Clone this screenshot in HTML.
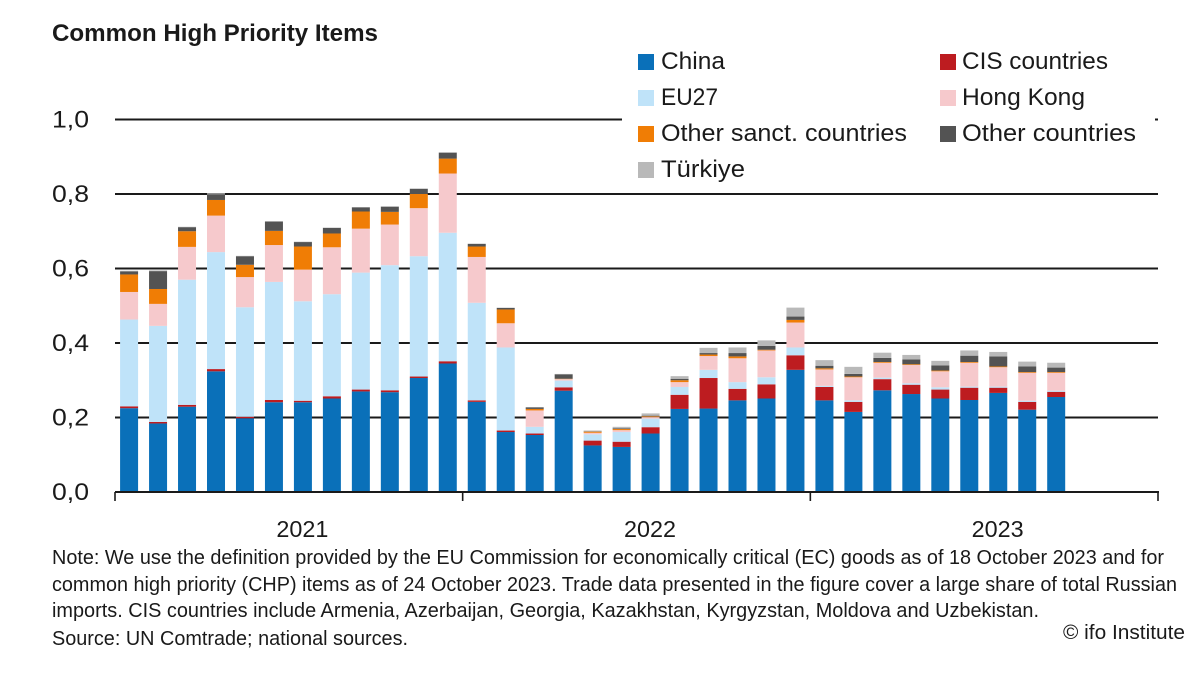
<!DOCTYPE html>
<html lang="en">
<head>
<meta charset="utf-8">
<title>Common High Priority Items</title>
<style>
html,body{margin:0;padding:0;background:#fff;}
svg{display:block;}
text{font-family:"Liberation Sans",sans-serif;fill:#1a1a1a;}
</style>
</head>
<body>
<svg id="chart" xmlns="http://www.w3.org/2000/svg" width="1200" height="674" viewBox="0 0 1200 674">
  <rect x="0" y="0" width="1200" height="674" fill="#fff"/>
  <text x="52" y="41" font-size="24" font-weight="bold" textLength="326" lengthAdjust="spacingAndGlyphs">Common High Priority Items</text>
  <g id="grid"></g>
  <g id="bars"></g>
  <g id="axes"></g>
  <g id="legend">
    <rect x="622" y="44" width="533" height="142" fill="#fff"/>
    <g><rect x="638" y="54" width="16" height="16" fill="#0a70b9"/><text x="661" y="69" font-size="24" textLength="64" lengthAdjust="spacingAndGlyphs">China</text></g>
    <g><rect x="638" y="90" width="16" height="16" fill="#bfe3f9"/><text x="661" y="105" font-size="24" textLength="57" lengthAdjust="spacingAndGlyphs">EU27</text></g>
    <g><rect x="638" y="126" width="16" height="16" fill="#f07d05"/><text x="661" y="141" font-size="24" textLength="246" lengthAdjust="spacingAndGlyphs">Other sanct. countries</text></g>
    <g><rect x="638" y="162" width="16" height="16" fill="#b9b9b9"/><text x="661" y="177" font-size="24" textLength="84" lengthAdjust="spacingAndGlyphs">Türkiye</text></g>
    <g><rect x="940" y="54" width="16" height="16" fill="#bd1c20"/><text x="962" y="69" font-size="24" textLength="146" lengthAdjust="spacingAndGlyphs">CIS countries</text></g>
    <g><rect x="940" y="90" width="16" height="16" fill="#f6c9cc"/><text x="962" y="105" font-size="24" textLength="123" lengthAdjust="spacingAndGlyphs">Hong Kong</text></g>
    <g><rect x="940" y="126" width="16" height="16" fill="#535353"/><text x="962" y="141" font-size="24" textLength="174" lengthAdjust="spacingAndGlyphs">Other countries</text></g>
  </g>
  <g>
    <text x="52" y="564" font-size="20" textLength="1112" lengthAdjust="spacingAndGlyphs">Note: We use the definition provided by the EU Commission for economically critical (EC) goods as of 18 October 2023 and for</text>
    <text x="52" y="591" font-size="20" textLength="1125" lengthAdjust="spacingAndGlyphs">common high priority (CHP) items as of 24 October 2023. Trade data presented in the figure cover a large share of total Russian</text>
    <text x="52" y="617" font-size="20" textLength="987" lengthAdjust="spacingAndGlyphs">imports. CIS countries include Armenia, Azerbaijan, Georgia, Kazakhstan, Kyrgyzstan, Moldova and Uzbekistan.</text>
    <text x="52" y="645" font-size="20" textLength="356" lengthAdjust="spacingAndGlyphs">Source: UN Comtrade; national sources.</text>
    <text x="1063" y="639" font-size="20" textLength="122" lengthAdjust="spacingAndGlyphs">© ifo Institute</text>
  </g>
</svg>
<script>
const years = ['2021', '2022', '2023'];
const yTicks = [0, 0.2, 0.4, 0.6, 0.8, 1.0];
const yTickLabels = ['0,0', '0,2', '0,4', '0,6', '0,8', '1,0'];
const china = [.225,.184,.229,.324,.198,.241,.241,.251,.270,.268,.306,.345,.242,.161,.153,.272,.125,.121,.157,.223,.224,.246,.251,.328,.246,.215,.273,.263,.251,.247,.266,.221,.255];
const cis = [.005,.004,.005,.006,.004,.006,.004,.006,.005,.005,.004,.006,.004,.004,.004,.009,.013,.014,.017,.038,.082,.031,.038,.039,.036,.027,.030,.025,.024,.033,.014,.021,.014];
const eu27 = [.233,.258,.336,.314,.294,.317,.267,.274,.314,.336,.323,.345,.262,.223,.018,.018,.017,.026,.023,.021,.022,.018,.019,.021,.003,.004,.004,.004,.006,.003,.003,.003,.003];
const hongKong = [.074,.059,.088,.098,.081,.099,.085,.126,.118,.109,.129,.159,.123,.065,.044,.004,.004,.005,.004,.013,.037,.064,.072,.067,.044,.062,.040,.049,.043,.064,.052,.075,.048];
const otherSanct = [.047,.040,.042,.042,.033,.038,.062,.037,.046,.034,.038,.040,.028,.037,.004,.001,.003,.003,.002,.005,.004,.005,.002,.007,.003,.002,.002,.002,.002,.002,.002,.002,.002];
const otherCountries = [.008,.048,.011,.015,.023,.025,.012,.015,.011,.014,.014,.016,.007,.004,.004,.012,.001,.002,.002,.004,.004,.009,.010,.009,.007,.007,.011,.013,.014,.017,.027,.015,.012];
const turkiye = [.002,.002,.001,.003,.001,.001,.001,.001,.001,.001,.001,.001,.001,.001,.001,.001,.002,.004,.006,.007,.014,.015,.015,.024,.015,.019,.014,.012,.012,.014,.012,.013,.013];

const NS = 'http://www.w3.org/2000/svg';
const plotLeft = 115, plotRight = 1158, plotBottom = 492, plotTop = 119.5;
const monthsPerYear = 12, totalMonths = monthsPerYear * years.length;
const bandWidth = (plotRight - plotLeft) / totalMonths;
const barWidth = 18;
const yearLabelOffset = 13.5;
function xScale(index) { return plotLeft + bandWidth * index; }
function yScale(value) { return plotBottom - (plotBottom - plotTop) * value; }
function make(tag, attrs, text) {
  const el = document.createElementNS(NS, tag);
  for (const k in attrs) el.setAttribute(k, attrs[k]);
  if (text !== undefined) el.textContent = text;
  return el;
}
const gridGroup = document.getElementById('grid');
const barsGroup = document.getElementById('bars');
const axesGroup = document.getElementById('axes');

yTicks.forEach(function (tick, i) {
  const y = yScale(tick);
  if (tick > 0) {
    const line = make('line', {x1: plotLeft, x2: plotRight, y1: y, y2: y, stroke: '#1a1a1a', 'stroke-width': 2});
    
    
    gridGroup.appendChild(line);
  }
  const label = make('text', {x: 52, y: y + 8, 'font-size': 24, textLength: 37, lengthAdjust: 'spacingAndGlyphs'}, yTickLabels[i]);
  
  
  axesGroup.appendChild(label);
});

const seriesList = [
  {key: 'china', values: china, color: '#0a70b9'},
  {key: 'cis-countries', values: cis, color: '#bd1c20'},
  {key: 'eu27', values: eu27, color: '#bfe3f9'},
  {key: 'hong-kong', values: hongKong, color: '#f6c9cc'},
  {key: 'other-sanct-countries', values: otherSanct, color: '#f07d05'},
  {key: 'other-countries', values: otherCountries, color: '#535353'},
  {key: 'turkiye', values: turkiye, color: '#b9b9b9'}
];
china.forEach(function (_, i) {
  let cumulative = 0;
  seriesList.forEach(function (series) {
    const value = series.values[i];
    const yTop = yScale(cumulative + value);
    const yBottom = yScale(cumulative);
    const rect = make('rect', {
      x: xScale(i + 0.5) - barWidth / 2 - 0.4,
      y: yTop,
      width: barWidth,
      height: yBottom - yTop,
      fill: series.color
    });
    
    
    barsGroup.appendChild(rect);
    cumulative += value;
  });
});

const axisLine = make('line', {x1: plotLeft, x2: plotRight + 1, y1: plotBottom, y2: plotBottom, stroke: '#1a1a1a', 'stroke-width': 2});


axesGroup.appendChild(axisLine);
for (let i = 0; i <= years.length; i++) {
  const x = xScale(i * monthsPerYear);
  const tick = make('line', {x1: x, x2: x, y1: plotBottom, y2: plotBottom + 9, stroke: '#1a1a1a', 'stroke-width': 1.6});
  
  
  axesGroup.appendChild(tick);
}
years.forEach(function (year, i) {
  const label = make('text', {x: xScale((i + 0.5) * monthsPerYear) + yearLabelOffset, y: 537, 'font-size': 23, 'text-anchor': 'middle', textLength: 52, lengthAdjust: 'spacingAndGlyphs'}, year);
  
  
  axesGroup.appendChild(label);
});
</script>
</body>
</html>
